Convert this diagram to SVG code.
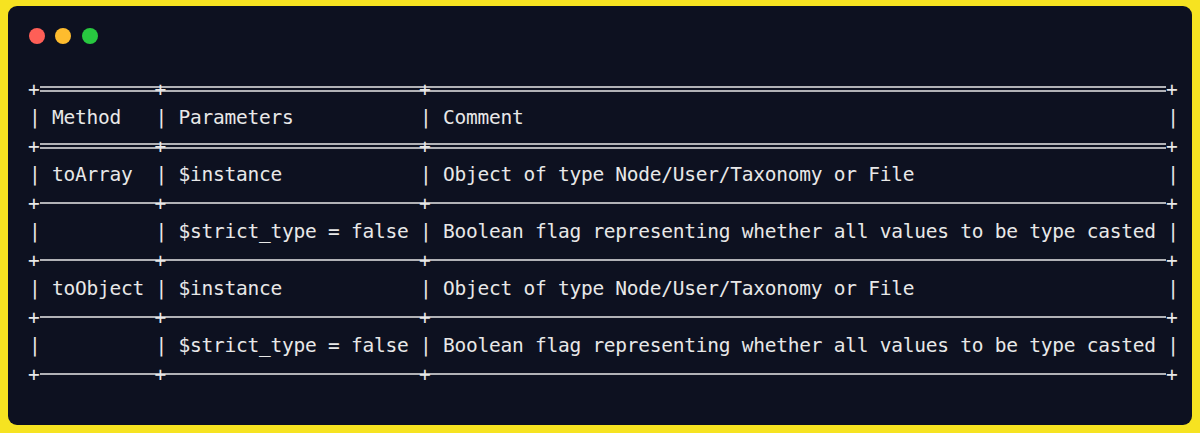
<svg xmlns="http://www.w3.org/2000/svg" width="1200" height="433" viewBox="0 0 1200 433">
<style>
.t{font-family:"DejaVu Sans Mono","Liberation Mono",monospace;font-size:19.5px;fill:#e8e8e8;white-space:pre}
.l{stroke:#e8e8e8;stroke-width:1.6}
</style>
<rect x="0" y="0" width="1200" height="433" fill="#f6e321"/>
<rect x="8" y="6" width="1184" height="419" rx="9" fill="#0d1120"/>
<g id="dots">
<circle cx="37" cy="36" r="8" fill="#fe5f57"/>
<circle cx="63" cy="36" r="8" fill="#febc2e"/>
<circle cx="90" cy="36" r="8" fill="#28c840"/>
</g>
<g id="rules">
<g id="r0"><line class="l" x1="40" y1="87" x2="1166" y2="87"/><line class="l" x1="40" y1="91" x2="1166" y2="91"/></g>
<g id="r1"><line class="l" x1="40" y1="144" x2="1166" y2="144"/><line class="l" x1="40" y1="148" x2="1166" y2="148"/></g>
<line class="l" x1="40" y1="203" x2="1166" y2="203"/>
<line class="l" x1="40" y1="260" x2="1166" y2="260"/>
<line class="l" x1="40" y1="317" x2="1166" y2="317"/>
<line class="l" x1="40" y1="374" x2="1166" y2="374"/>
</g>
<g id="plus">
<text class="t" x="28" y="96">+</text><text class="t" x="154.5" y="96">+</text><text class="t" x="419" y="96">+</text><text class="t" x="1166" y="96">+</text>
<text class="t" x="28" y="153">+</text><text class="t" x="154.5" y="153">+</text><text class="t" x="419" y="153">+</text><text class="t" x="1166" y="153">+</text>
<text class="t" x="28" y="210">+</text><text class="t" x="154.5" y="210">+</text><text class="t" x="419" y="210">+</text><text class="t" x="1166" y="210">+</text>
<text class="t" x="28" y="267">+</text><text class="t" x="154.5" y="267">+</text><text class="t" x="419" y="267">+</text><text class="t" x="1166" y="267">+</text>
<text class="t" x="28" y="324">+</text><text class="t" x="154.5" y="324">+</text><text class="t" x="419" y="324">+</text><text class="t" x="1166" y="324">+</text>
<text class="t" x="28" y="381">+</text><text class="t" x="154.5" y="381">+</text><text class="t" x="419" y="381">+</text><text class="t" x="1166" y="381">+</text>
</g>
<g id="header"><text class="t" x="29" y="124" xml:space="preserve" textLength="1150" lengthAdjust="spacing">| Method   | Parameters           | Comment                                                        |</text></g>
<g id="row1"><text class="t" x="29" y="181" xml:space="preserve" textLength="1150" lengthAdjust="spacing">| toArray  | $instance            | Object of type Node/User/Taxonomy or File                      |</text></g>
<g id="row2"><text class="t" x="29" y="238" xml:space="preserve" textLength="1150" lengthAdjust="spacing">|          | $strict_type = false | Boolean flag representing whether all values to be type casted |</text></g>
<g id="row3"><text class="t" x="29" y="295" xml:space="preserve" textLength="1150" lengthAdjust="spacing">| toObject | $instance            | Object of type Node/User/Taxonomy or File                      |</text></g>
<g id="row4"><text class="t" x="29" y="352" xml:space="preserve" textLength="1150" lengthAdjust="spacing">|          | $strict_type = false | Boolean flag representing whether all values to be type casted |</text></g>
</svg>
